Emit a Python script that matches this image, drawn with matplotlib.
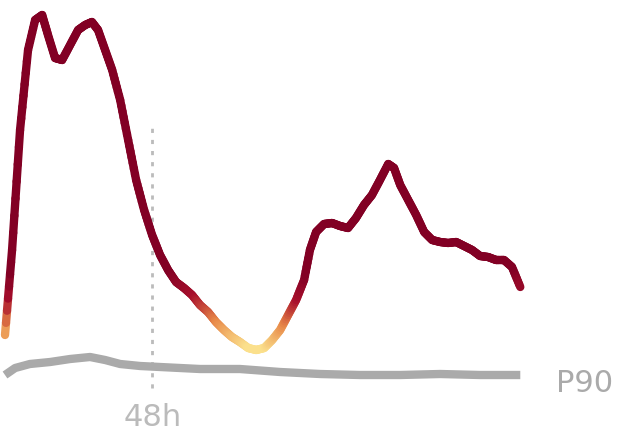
import numpy as np
import matplotlib
matplotlib.use("Agg")
import matplotlib.pyplot as plt
from matplotlib.collections import LineCollection
from matplotlib.colors import LinearSegmentedColormap, Normalize

# main series (hours, value)
hours = [0, 2.3, 4.9, 7.5, 9.8, 12.1, 14, 16.3, 18.6, 21.2, 23.8, 26.1, 28.3, 30.3,
         32.6, 34.9, 37.5, 40.1, 42.7, 45.3, 47.9, 50.5, 53.1, 55.7, 58.3, 60.9,
         63.5, 66.1, 68.7, 71.3, 73.9, 76.5, 79.2, 81.8, 84.4, 87, 89.6, 92.2,
         94.8, 97.4, 99.3, 101.3, 103.9, 106.5, 109.1, 111.7, 114.3, 116.9, 119.5,
         122.1, 124.8, 126.7, 128.7, 131.3, 133.9, 136.5, 139.1, 141.7, 144.3,
         146.9, 149.5, 152.1, 154.7, 157.3, 159.9, 162.5, 165.1, 167.8]
values = [103, 188, 308, 388, 418, 423, 403, 380, 378, 393, 408, 413, 416, 408,
          388, 368, 338, 298, 258, 228, 203, 183, 168, 156, 150, 143, 133, 126,
          116, 108, 101, 96, 90, 88, 90, 98, 108, 123, 138, 158, 188, 206, 214,
          215, 212, 210, 220, 233, 243, 258, 274, 270, 253, 238, 223, 206, 198,
          196, 195, 196, 192, 188, 182, 181, 178, 178, 171, 151]

# P90 reference series
p90_hours = [0, 3.3, 8.1, 14.7, 21.2, 27.7, 32.6, 37.5, 44, 50.5, 63.5, 76.5,
             89.6, 102.6, 115.6, 128.7, 141.7, 154.7, 167.8]
p90_values = [63, 70, 74, 76, 79, 81, 78, 74, 72, 71, 69, 69, 66, 64, 63, 63,
              64, 63, 63]

marker_hour = 48

fig = plt.figure(figsize=(6.25, 4.38), dpi=100)
ax = fig.add_axes([0, 0, 1, 1])
ax.set_xlim(-1.63, 201.9)
ax.set_ylim(0, 438)
ax.axis("off")

ax.plot(p90_hours, p90_values, color="#aaaaaa", lw=6, solid_capstyle="butt", zorder=1)

cmap = LinearSegmentedColormap.from_list(
    "heat", ["#fbe08c", "#e88848", "#a8102c", "#820024"])
x = np.array(hours)
y = np.array(values)
# split each segment into short pieces so the colour blends smoothly
t = np.linspace(0, 1, 8)
xs = np.concatenate([x[i] + (x[i + 1] - x[i]) * t[:-1] for i in range(len(x) - 1)] + [x[-1:]])
ys = np.concatenate([y[i] + (y[i + 1] - y[i]) * t[:-1] for i in range(len(y) - 1)] + [y[-1:]])
pts = np.column_stack([xs, ys]).reshape(-1, 1, 2)
segs = np.concatenate([pts[:-1], pts[1:]], axis=1)
lc = LineCollection(segs, cmap=cmap, norm=Normalize(90, 165), lw=6,
                    capstyle="round", zorder=2)
lc.set_array(np.clip((ys[:-1] + ys[1:]) / 2, 90, 165))
ax.add_collection(lc)

ax.plot([marker_hour, marker_hour], [50, 313], color="#bbbbbb", lw=2,
        ls=(0, (1.5, 2.5)), zorder=0)
ax.text(marker_hour, 20, "48h", color="#bbbbbb", fontsize=22, ha="center", va="center")
ax.text(179.5, 54, "P90", color="#aaaaaa", fontsize=22, ha="left", va="center")

fig.savefig("out.png")
